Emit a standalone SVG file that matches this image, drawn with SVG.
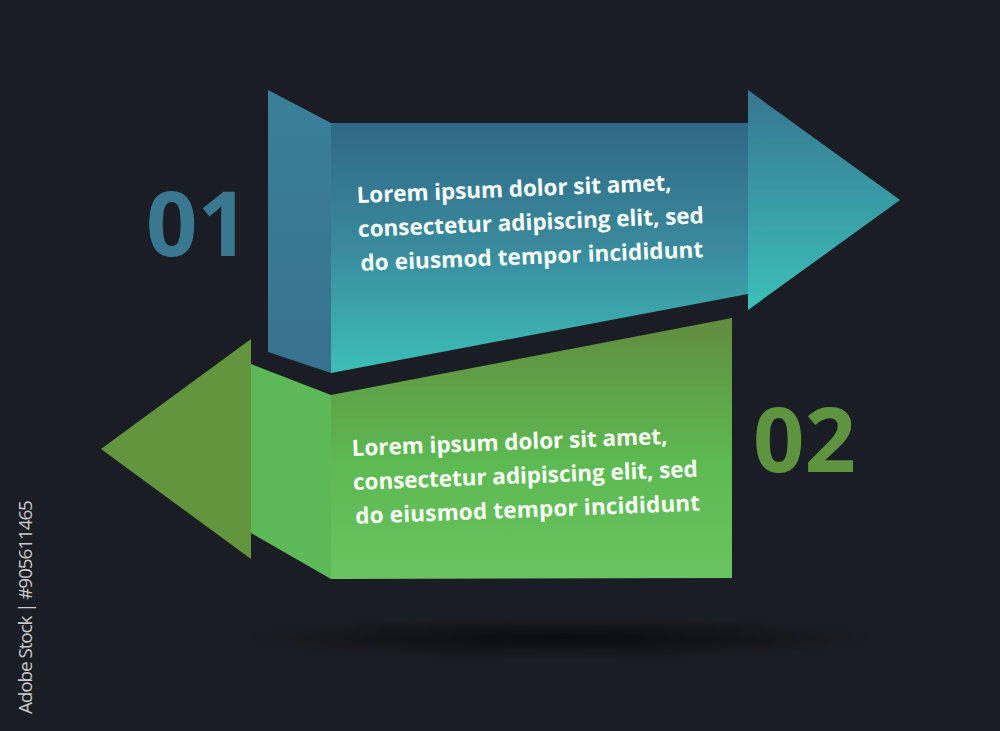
<svg xmlns="http://www.w3.org/2000/svg" width="1000" height="731" viewBox="0 0 1000 731">
  <defs>
    <linearGradient id="gTopMain" gradientUnits="userSpaceOnUse" x1="0" y1="123" x2="0" y2="373">
      <stop offset="0" stop-color="#2f6888"/>
      <stop offset="0.5" stop-color="#3a8a9c"/>
      <stop offset="1" stop-color="#3cbfb7"/>
    </linearGradient>
    <linearGradient id="gTopHead" gradientUnits="userSpaceOnUse" x1="0" y1="90" x2="0" y2="310">
      <stop offset="0" stop-color="#367592"/>
      <stop offset="1" stop-color="#3bc0b7"/>
    </linearGradient>
    <linearGradient id="gTopFold" gradientUnits="userSpaceOnUse" x1="0" y1="90" x2="0" y2="373">
      <stop offset="0" stop-color="#3b7f99"/>
      <stop offset="1" stop-color="#37728f"/>
    </linearGradient>
    <linearGradient id="gBotMain" gradientUnits="userSpaceOnUse" x1="0" y1="318" x2="0" y2="579">
      <stop offset="0" stop-color="#618c3e"/>
      <stop offset="0.55" stop-color="#5db952"/>
      <stop offset="1" stop-color="#69c360"/>
    </linearGradient>
    <radialGradient id="gShadow" cx="0.5" cy="0.5" r="0.5">
      <stop offset="0" stop-color="#000" stop-opacity="0.6"/>
      <stop offset="1" stop-color="#000" stop-opacity="0"/>
    </radialGradient>
    <style>
      .body { font-family: "Open Sans", "Liberation Sans", sans-serif; font-weight: 700; font-size: 22.5px; fill: #ffffff; }
      .num { font-family: "Open Sans", "Liberation Sans", sans-serif; font-weight: 700; font-size: 90px; }
      .wm { font-family: "Open Sans", "Liberation Sans", sans-serif; font-size: 19px; fill: #c9cacd; }
    </style>
  </defs>

  <rect x="0" y="0" width="1000" height="731" fill="#1b1d24"/>
  <ellipse cx="560" cy="638" rx="320" ry="22" fill="url(#gShadow)"/>

  <g id="node-01">
    <polygon points="268,90 331,123 331,373 268,352" fill="url(#gTopFold)"/>
    <polygon points="331,123 748,123 748,294 331,373" fill="url(#gTopMain)"/>
    <polygon points="748,90 900,200 748,310" fill="url(#gTopHead)"/>
    <text class="num" x="146" y="256" fill="#3a7892">01</text>
    <g transform="rotate(-2.3 357 203)">
      <text class="body" x="357" y="203" textLength="315" lengthAdjust="spacing">Lorem ipsum dolor sit amet,</text>
      <text class="body" x="357" y="237" textLength="346" lengthAdjust="spacing">consectetur adipiscing elit, sed</text>
      <text class="body" x="358" y="271" textLength="343" lengthAdjust="spacing">do eiusmod tempor incididunt</text>
    </g>
  </g>

  <g id="node-02">
    <polygon points="101,449 251,339 251,559" fill="#63953f"/>
    <polygon points="251,364 331,395 331,579 251,533" fill="#5db857"/>
    <polygon points="331,395 732,318 732,578 331,579" fill="url(#gBotMain)"/>
    <text class="num" x="753" y="472" fill="#5e9440">02</text>
    <g transform="rotate(-2.2 352 456)">
      <text class="body" x="352" y="456" textLength="316" lengthAdjust="spacing">Lorem ipsum dolor sit amet,</text>
      <text class="body" x="352" y="490" textLength="345" lengthAdjust="spacing">consectetur adipiscing elit, sed</text>
      <text class="body" x="353" y="524" textLength="345" lengthAdjust="spacing">do eiusmod tempor incididunt</text>
    </g>
  </g>

  <g id="connectors"/>

  <text class="wm" transform="translate(32 714) rotate(-90)" x="0" y="0" textLength="214" lengthAdjust="spacing">Adobe Stock | #905611465</text>
</svg>
